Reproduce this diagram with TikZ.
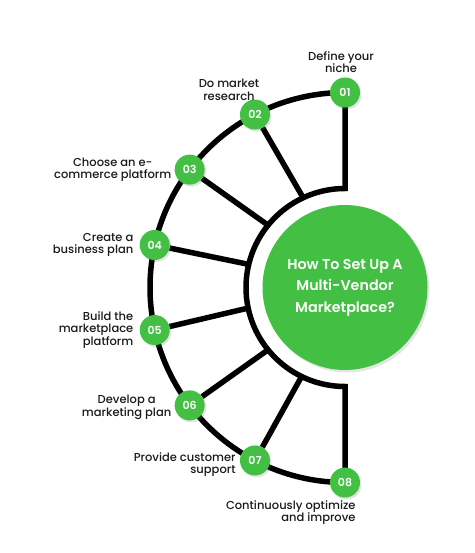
\documentclass[tikz,border=0pt]{standalone}
\usepackage{fontspec}
\setmainfont{Poppins}[UprightFont={* Medium}, BoldFont={* SemiBold}]
\usetikzlibrary{positioning,shadows,backgrounds}

\definecolor{leafgreen}{RGB}{67,191,67}
\definecolor{inkgray}{RGB}{26,26,26}

\tikzset{
  stepdot/.style={circle, fill=leafgreen, minimum size=30pt, inner sep=0pt,
    text=white, font=\bfseries\fontsize{11}{12}\selectfont,
    drop shadow={opacity=0.22, shadow xshift=1.5pt, shadow yshift=-2pt}},
  tag/.style={inner sep=0pt, text=inkgray, font=\fontsize{11.5}{12.5}\selectfont},
  rail/.style={line width=5.5pt, black},
}

\begin{document}
\begin{tikzpicture}
  \useasboundingbox (0,0) rectangle (474pt,-553pt);

  % Define nodes
  \coordinate (mid) at (345pt,-287.5pt);
  \node[circle, fill=leafgreen, minimum size=165pt, inner sep=0pt, text=white, align=center,
        font=\bfseries\fontsize{14.3}{21.5}\selectfont,
        drop shadow={opacity=0.2, shadow xshift=2pt, shadow yshift=-2.5pt}]
        (hub) at (mid) {How To Set Up A\\Multi-Vendor\\Marketplace?};

  \node[stepdot] (s1) at ([shift={(90:195pt)}]mid) {01};
  \node[stepdot] (s2) at ([shift={(117.5:195pt)}]mid) {02};
  \node[stepdot] (s3) at ([shift={(142.8:195pt)}]mid) {03};
  \node[stepdot] (s4) at ([shift={(167.4:195pt)}]mid) {04};
  \node[stepdot] (s5) at ([shift={(192.6:195pt)}]mid) {05};
  \node[stepdot] (s6) at ([shift={(217.2:195pt)}]mid) {06};
  \node[stepdot] (s7) at ([shift={(242.5:195pt)}]mid) {07};
  \node[stepdot] (s8) at ([shift={(270:195pt)}]mid) {08};

  \coordinate (p1) at ([shift={(90:99pt)}]mid);
  \coordinate (p2) at ([shift={(115:99pt)}]mid);
  \coordinate (p3) at ([shift={(141:99pt)}]mid);
  \coordinate (p4) at ([shift={(166.5:99pt)}]mid);
  \coordinate (p5) at ([shift={(192:99pt)}]mid);
  \coordinate (p6) at ([shift={(219:99pt)}]mid);
  \coordinate (p7) at ([shift={(244:99pt)}]mid);

  % Labels
  \node[tag, align=center, above=4pt of s1, xshift=-4pt] (l1) {Define your\\niche};
  \node[tag, align=center, above=-1pt of s2, xshift=-26pt] (l2) {Do market\\research};
  \node[tag, align=center, left=3pt of s3] (l3) {Choose an e-\\commerce platform};
  \node[tag, align=right, left=6pt of s4] (l4) {Create a\\business plan};
  \node[tag, align=right, left=6pt of s5] (l5) {Build the\\marketplace\\platform};
  \node[tag, align=center, left=3pt of s6, yshift=-2pt] (l6) {Develop a\\marketing plan};
  \node[tag, align=right, left=4pt of s7, yshift=-4pt] (l7) {Provide customer\\support};
  \node[tag, align=right, below=7pt of s8.south east, anchor=north east] (l8) {Continuously optimize\\and improve};

  % Connect the nodes
  \begin{scope}[on background layer]
    \fill[white] (0,0) rectangle (474pt,-553pt);
    \draw[rail] (s1.center) arc[start angle=90, end angle=270, radius=195pt];
    \draw[rail] (s1.center) -- (p1) arc[start angle=90, end angle=270, radius=99pt] -- (s8.center);
    \draw[rail] (s2) -- (p2);
    \draw[rail] (s3) -- (p3);
    \draw[rail] (s4) -- (p4);
    \draw[rail] (s5) -- (p5);
    \draw[rail] (s6) -- (p6);
    \draw[rail] (s7) -- (p7);
  \end{scope}
\end{tikzpicture}
\end{document}
